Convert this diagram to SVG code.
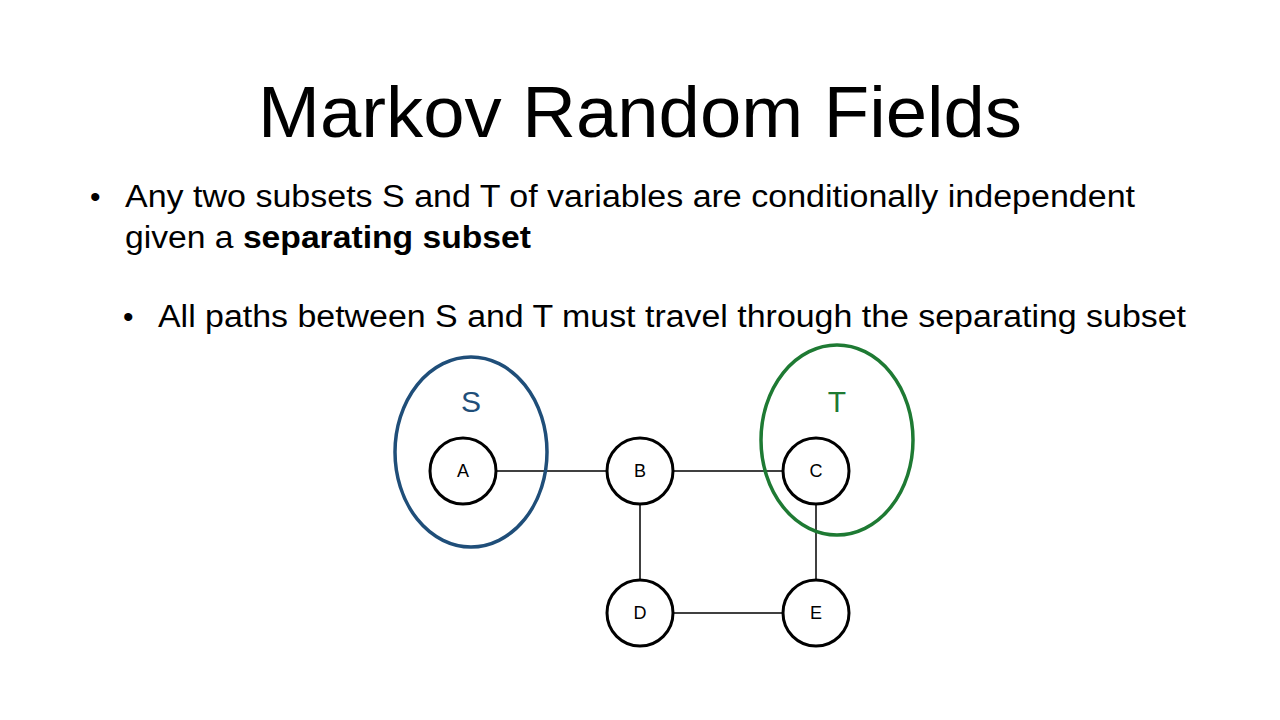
<svg xmlns="http://www.w3.org/2000/svg" width="1280" height="720" viewBox="0 0 1280 720">
<style>
.t{font-family:"Liberation Sans",Arial,sans-serif;fill:#000}
.n circle{fill:#fff;stroke:#000;stroke-width:3}
.n text{font-family:"Liberation Sans",Arial,sans-serif;font-size:18px;text-anchor:middle;fill:#000}
.e line{stroke:#000;stroke-width:1.5}
</style>
<rect width="1280" height="720" fill="#fff"/>
<text class="t" x="258" y="137" font-size="72" font-weight="300" textLength="764" lengthAdjust="spacingAndGlyphs">Markov Random Fields</text>
<text class="t" x="90" y="207" font-size="30">•</text>
<text class="t" x="125" y="207" font-size="31" textLength="1010" lengthAdjust="spacingAndGlyphs">Any two subsets S and T of variables are conditionally independent</text>
<text class="t" x="125" y="248" font-size="31" textLength="406" lengthAdjust="spacingAndGlyphs">given a <tspan font-weight="bold">separating subset</tspan></text>
<text class="t" x="123" y="327" font-size="30">•</text>
<text class="t" x="158" y="327" font-size="31" textLength="1028" lengthAdjust="spacingAndGlyphs">All paths between S and T must travel through the separating subset</text>
<g id="connectors" class="e">
<line x1="463" y1="471" x2="640" y2="471"/>
<line x1="640" y1="471" x2="816" y2="471"/>
<line x1="640" y1="471" x2="640" y2="613"/>
<line x1="640" y1="613" x2="816" y2="613"/>
<line x1="816" y1="471" x2="816" y2="613"/>
</g>
<g id="A" class="n"><circle cx="463" cy="471" r="33"/><text x="463" y="477">A</text></g>
<g id="B" class="n"><circle cx="640" cy="471" r="33"/><text x="640" y="477">B</text></g>
<g id="C" class="n"><circle cx="816" cy="471" r="33"/><text x="816" y="477">C</text></g>
<g id="D" class="n"><circle cx="640" cy="613" r="33"/><text x="640" y="619">D</text></g>
<g id="E" class="n"><circle cx="816" cy="613" r="33"/><text x="816" y="619">E</text></g>
<g id="S">
<ellipse cx="471" cy="452" rx="76" ry="95" fill="none" stroke="#1f4e79" stroke-width="3.5"/>
<text x="471" y="412" font-size="30" text-anchor="middle" fill="#1f4e79" font-family="Liberation Sans,Arial,sans-serif">S</text>
</g>
<g id="T">
<ellipse cx="837" cy="440" rx="76" ry="95" fill="none" stroke="#1e7a33" stroke-width="3.5"/>
<text x="837" y="412" font-size="30" text-anchor="middle" fill="#1e7a33" font-family="Liberation Sans,Arial,sans-serif">T</text>
</g>
</svg>
